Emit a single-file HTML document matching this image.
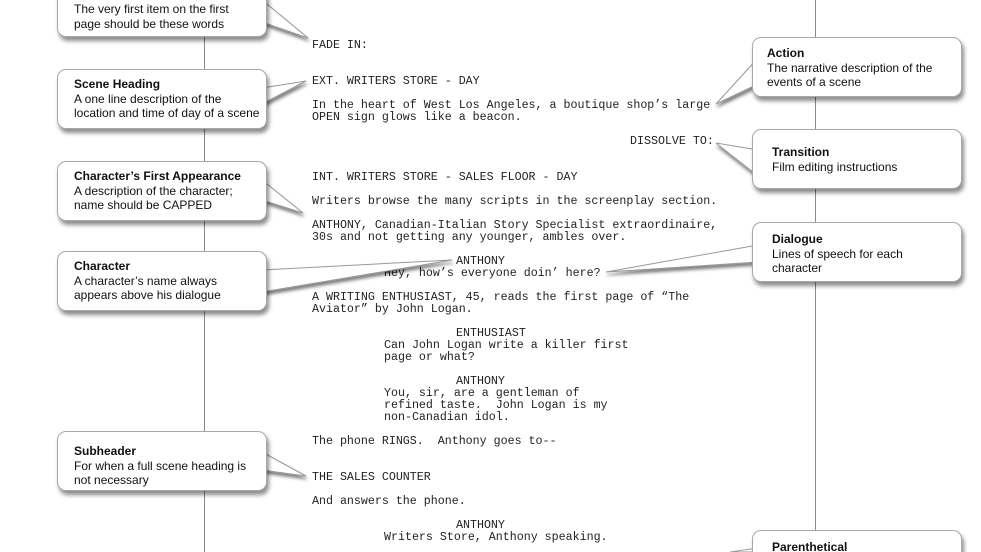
<!DOCTYPE html>
<html><head><meta charset="utf-8"><style>
html,body{margin:0;padding:0;background:#fff;width:981px;height:552px;overflow:hidden}
#w{position:relative;width:981px;height:552px;overflow:hidden}
.vl{position:absolute;top:0;height:552px;width:1px;background:#8a8a8a}
.box{position:absolute;width:210px;height:60px;background:#fff;border:1px solid #a8a8a8;border-radius:9px;box-shadow:2px 4px 4px rgba(0,0,0,.45);font-family:"Liberation Sans",sans-serif;font-size:12px;line-height:14.5px;color:#111;box-sizing:border-box;padding:7px 0 0 16px}
.s{position:absolute;font-family:"Liberation Mono",monospace;font-size:11.65px;color:#222;white-space:pre;line-height:12px}
svg{position:absolute;left:0;top:0}
</style></head><body><div id="w">
<div class="vl" style="left:204px"></div>
<div class="vl" style="left:815px"></div>

<div class="s" style="left:312px;top:40px">FADE IN:</div>
<div class="s" style="left:312px;top:76px">EXT. WRITERS STORE - DAY</div>
<div class="s" style="left:312px;top:100px">In the heart of West Los Angeles, a boutique shop’s large
OPEN sign glows like a beacon.</div>
<div class="s" style="left:630px;top:136px">DISSOLVE TO:</div>
<div class="s" style="left:312px;top:172px">INT. WRITERS STORE - SALES FLOOR - DAY</div>
<div class="s" style="left:312px;top:196px">Writers browse the many scripts in the screenplay section.</div>
<div class="s" style="left:312px;top:220px">ANTHONY, Canadian-Italian Story Specialist extraordinaire,
30s and not getting any younger, ambles over.</div>
<div class="s" style="left:456px;top:256px">ANTHONY</div>
<div class="s" style="left:384px;top:268px">Hey, how’s everyone doin’ here?</div>
<div class="s" style="left:312px;top:292px">A WRITING ENTHUSIAST, 45, reads the first page of “The
Aviator” by John Logan.</div>
<div class="s" style="left:456px;top:328px">ENTHUSIAST</div>
<div class="s" style="left:384px;top:340px">Can John Logan write a killer first
page or what?</div>
<div class="s" style="left:456px;top:376px">ANTHONY</div>
<div class="s" style="left:384px;top:388px">You, sir, are a gentleman of
refined taste.  John Logan is my
non-Canadian idol.</div>
<div class="s" style="left:312px;top:436px">The phone RINGS.  Anthony goes to--</div>
<div class="s" style="left:312px;top:472px">THE SALES COUNTER</div>
<div class="s" style="left:312px;top:496px">And answers the phone.</div>
<div class="s" style="left:456px;top:520px">ANTHONY</div>
<div class="s" style="left:384px;top:532px">Writers Store, Anthony speaking.</div>

<svg width="981" height="552">
<defs><filter id="sh" x="-20%" y="-50%" width="140%" height="200%"><feDropShadow dx="1" dy="3" stdDeviation="1.5" flood-color="#000" flood-opacity="0.5"/></filter></defs>
<g fill="#fff" stroke="#999" stroke-width="1" filter="url(#sh)">
<polygon points="262,0 308,38 262,22"/>
<polygon points="262,88 306,81 262,104"/>
<polygon points="262,180 303,213 262,200"/>
<polygon points="262,270 452,260 262,292"/>
<polygon points="262,452 306,476 262,470"/>
<polygon points="758,58 716,104 758,84"/>
<polygon points="758,150 716,143 758,176"/>
<polygon points="758,245 606,272 758,262"/>
<polygon points="758,548 730,552 758,552"/>
</g>
</svg>

<div class="box" style="left:57px;top:-23px;padding-top:24px">The very first item on the first<br>page should be these words</div>
<div class="box" style="left:57px;top:69px"><b>Scene Heading</b><br>A one line description of the<br>location and time of day of a scene</div>
<div class="box" style="left:57px;top:161px"><b>Character’s First Appearance</b><br>A description of the character;<br>name should be CAPPED</div>
<div class="box" style="left:57px;top:251px"><b>Character</b><br>A character’s name always<br>appears above his dialogue</div>
<div class="box" style="left:57px;top:431px;padding-top:12px"><b>Subheader</b><br>For when a full scene heading is<br>not necessary</div>
<div class="box" style="left:752px;top:37px;padding:8px 0 0 14px"><b>Action</b><br>The narrative description of the<br>events of a scene</div>
<div class="box" style="left:752px;top:129px;padding:15px 0 0 19px"><b>Transition</b><br>Film editing instructions</div>
<div class="box" style="left:752px;top:222px;padding:9px 0 0 19px"><b>Dialogue</b><br>Lines of speech for each<br>character</div>
<div class="box" style="left:752px;top:530px;padding:9px 0 0 19px"><b>Parenthetical</b></div>
</div></body></html>
